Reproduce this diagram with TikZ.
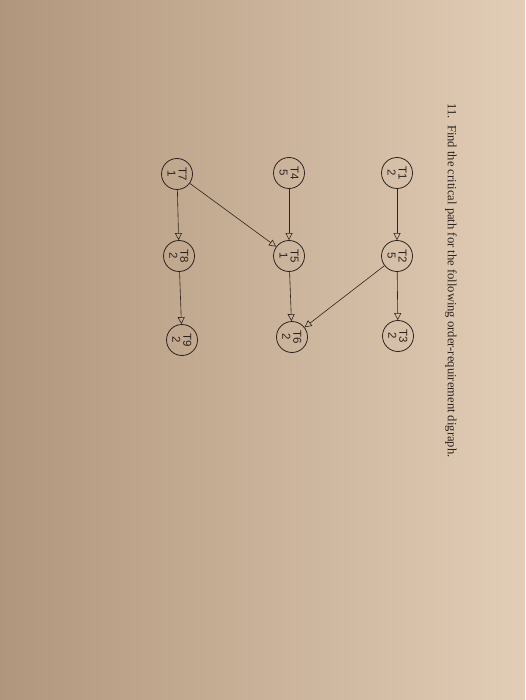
\documentclass[tikz,border=0pt]{standalone}
\usepackage{fontspec}
\setmainfont{Liberation Serif}
\newfontfamily\nodefont{Liberation Sans}
\usetikzlibrary{arrows.meta}
\definecolor{paperlight}{RGB}{226,205,182}
\definecolor{paperdark}{RGB}{176,150,124}
\definecolor{ink}{RGB}{45,36,32}

\begin{document}
\begin{tikzpicture}
      [x=1pt,y=-1pt,every node/.style={rotate=-90},
       task/.style={draw=ink, circle, line width=0.8pt, inner sep=0pt, minimum size=31pt, align=center,
         font=\nodefont\fontsize{11.5}{11}\selectfont, text=ink},
       prec/.style={-{Triangle[open,length=7pt,width=7pt]}, draw=ink, line width=0.6pt}]
    \shade[left color=paperdark, right color=paperlight] (0,0) rectangle (525,700);
    \node[anchor=west, text=ink, font=\fontsize{12.6}{14}\selectfont] (title) at (451,100)
      {11.\ \ Find the critical path for the following order-requirement digraph.};

    \node[task] (t1) at (397,173) {T1\\2};
    \node[task] (t2) at (397,256) {T2\\5};
    \node[task] (t3) at (398,336) {T3\\2};
    \node[task] (t4) at (289,173) {T4\\5};
    \node[task] (t5) at (289,256) {T5\\1};
    \node[task] (t6) at (292,337) {T6\\2};
    \node[task] (t7) at (177,174) {T7\\1};
    \node[task] (t8) at (179,256) {T8\\2};
    \node[task] (t9) at (182,340) {T9\\2};

    \foreach \from/\to in {t1/t2, t2/t3, t2/t6, t4/t5, t5/t6, t7/t5, t7/t8, t8/t9}
      \draw[prec] (\from) -- (\to);
  \end{tikzpicture}
\end{document}
